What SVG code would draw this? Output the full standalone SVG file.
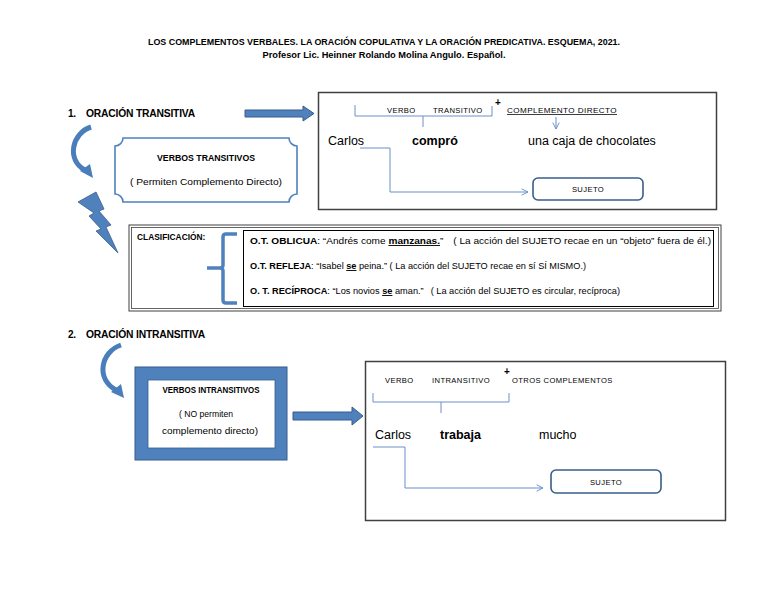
<svg xmlns="http://www.w3.org/2000/svg" width="768" height="594" viewBox="0 0 768 594">
<defs>
<style>
text{font-family:"Liberation Sans",Arial,sans-serif;fill:#000}
.title{font-size:8.6px;font-weight:bold;text-anchor:middle}
.head{font-size:10px;font-weight:900;letter-spacing:-0.2px}
.sm{font-size:7.6px;letter-spacing:0.4px}
.lbl{font-size:8.4px}
.lbl2{font-size:9.4px}
.cl{font-size:9.2px}
.big{font-size:12.5px}
.b{font-weight:bold}
.conn{fill:none;stroke:#6b8fca;stroke-width:1}
.brace{fill:none;stroke:#6b8fca;stroke-width:1}
.blk{fill:#4f81bd;stroke:#385d8a;stroke-width:1}
.curve{fill:none;stroke:#4a7ebb;stroke-width:5;stroke-linecap:butt}
.sbox{fill:#fff;stroke:#385d8a;stroke-width:1.6}
</style>
<marker id="open" viewBox="0 0 10 10" refX="9" refY="5" markerWidth="8" markerHeight="8" markerUnits="userSpaceOnUse" orient="auto">
<path d="M1,1 L9,5 L1,9" fill="none" stroke="#6b8fca" stroke-width="1.2"/>
</marker>
</defs>
<rect width="768" height="594" fill="#fff"/>

<g id="title">
<text class="title" x="384" y="45" textLength="472" lengthAdjust="spacingAndGlyphs">LOS COMPLEMENTOS VERBALES. LA ORACIÓN COPULATIVA Y LA ORACIÓN PREDICATIVA. ESQUEMA, 2021.</text>
<text class="title" x="384" y="58" textLength="243" lengthAdjust="spacingAndGlyphs">Profesor Lic. Heinner Rolando Molina Angulo. Español.</text>
</g>

<!-- Section 1 -->
<g id="heading1">
<text class="head" x="68" y="117">1.</text>
<text class="head" x="86" y="117" textLength="109" lengthAdjust="spacingAndGlyphs">ORACIÓN TRANSITIVA</text>
</g>

<g id="verbos-transitivos">
<path d="M123,138 H289 A8,8 0 0 0 297,146 V194 A8,8 0 0 0 289,202 H123 A8,8 0 0 0 115,194 V146 A8,8 0 0 0 123,138 Z" fill="#fff" stroke="#4f81bd" stroke-width="1.6"/>
<text class="lbl b" x="206" y="161" text-anchor="middle" textLength="98" lengthAdjust="spacingAndGlyphs">VERBOS TRANSITIVOS</text>
<text class="lbl2" x="206" y="185" text-anchor="middle" textLength="152" lengthAdjust="spacingAndGlyphs">( Permiten Complemento Directo)</text>
</g>

<g id="ejemplo-transitivo">
<rect x="318.5" y="92.5" width="398" height="117" fill="#fff" stroke="#404040" stroke-width="1.5"/>
<path class="brace" d="M355,105 V116 H492 V106 M423,116 V127"/>
<text class="sm" x="387" y="113">VERBO</text>
<text class="sm" x="433" y="113">TRANSITIVO</text>
<text class="b" x="495" y="106" font-size="10">+</text>
<text class="sm" x="507" y="113" text-decoration="underline" textLength="110" lengthAdjust="spacingAndGlyphs">COMPLEMENTO DIRECTO</text>
<text class="big" x="328" y="145">Carlos</text>
<text class="big b" x="412" y="145">compró</text>
<text class="big" x="528" y="145">una caja de chocolates</text>
</g>

<g id="sujeto1">
<rect class="sbox" x="533" y="178" width="110" height="22" rx="5"/>
<text class="sm" x="588" y="192" text-anchor="middle">SUJETO</text>
</g>

<g id="clasificacion">
<rect x="129" y="225" width="592" height="86" fill="#fff" stroke="#404040" stroke-width="1"/>
<rect x="131.5" y="227.5" width="587" height="81" fill="none" stroke="#404040" stroke-width="0.8"/>
<text class="lbl b" x="137" y="240">CLASIFICACIÓN:</text>
<path d="M237,234 H226 Q223,234 223,237 V265 Q223,268 220,268 H207 M220,268 Q223,268 223,271 V300 Q223,303 226,303 H237" fill="none" stroke="#4f81bd" stroke-width="3.5"/>
<rect x="243.5" y="230.5" width="470" height="76" fill="#fff" stroke="#000" stroke-width="1"/>
<text class="cl" x="250" y="244" textLength="461" lengthAdjust="spacingAndGlyphs"><tspan class="b">O.T. OBLICUA</tspan>: “Andrés come <tspan class="b" text-decoration="underline">manzanas.</tspan>”<tspan dx="9">( La acción del SUJETO recae en un “objeto” fuera de él.)</tspan></text>
<text class="cl" x="250" y="269" textLength="336" lengthAdjust="spacingAndGlyphs"><tspan class="b">O.T. REFLEJA</tspan>: “Isabel <tspan class="b" text-decoration="underline">se</tspan> peina.” ( La acción del SUJETO recae en sí SÍ MISMO.)</text>
<text class="cl" x="250" y="294" textLength="370" lengthAdjust="spacingAndGlyphs"><tspan class="b">O. T. RECÍPROCA</tspan>: “Los novios <tspan class="b" text-decoration="underline">se</tspan> aman.”<tspan dx="7">( La acción del SUJETO es circular, recíproca)</tspan></text>
</g>

<!-- Section 2 -->
<g id="heading2">
<text class="head" x="68" y="338">2.</text>
<text class="head" x="86" y="338" textLength="119" lengthAdjust="spacingAndGlyphs">ORACIÓN INTRANSITIVA</text>
</g>

<g id="verbos-intransitivos">
<rect x="135" y="367" width="152" height="93" fill="#4f81bd" stroke="#385d8a" stroke-width="1"/>
<rect x="148" y="380" width="127" height="68" fill="#fff" stroke="#385d8a" stroke-width="0.8"/>
<text class="lbl b" x="211" y="393" text-anchor="middle" textLength="97" lengthAdjust="spacingAndGlyphs">VERBOS INTRANSITIVOS</text>
<text class="lbl2" x="206" y="417" text-anchor="middle" textLength="54" lengthAdjust="spacingAndGlyphs">( NO permiten</text>
<text class="lbl2" x="210" y="434" text-anchor="middle" textLength="96" lengthAdjust="spacingAndGlyphs">complemento directo)</text>
</g>

<g id="ejemplo-intransitivo">
<rect x="365.5" y="361.5" width="360" height="159" fill="#fff" stroke="#404040" stroke-width="1.5"/>
<path class="brace" d="M373,393 V402 H509 V393 M441,402 V413"/>
<text class="sm" x="385" y="383">VERBO</text>
<text class="sm" x="432" y="383">INTRANSITIVO</text>
<text class="b" x="504" y="375" font-size="10">+</text>
<text class="sm" x="512" y="383">OTROS COMPLEMENTOS</text>
<text class="big" x="375" y="439">Carlos</text>
<text class="big b" x="440" y="439">trabaja</text>
<text class="big" x="539" y="439">mucho</text>
</g>

<g id="sujeto2">
<rect class="sbox" x="551" y="470" width="110" height="23" rx="5"/>
<text class="sm" x="606" y="485" text-anchor="middle">SUJETO</text>
</g>

<g id="connectors">
<!-- block arrow 1 -->
<path class="blk" d="M245,110 H303 V106 L314,113.5 L303,121 V117 H245 Z"/>
<!-- block arrow 2 -->
<path class="blk" d="M293,412 H352 V407 L363,416 L352,425 V420 H293 Z"/>
<!-- curved arrow 1 -->
<path class="curve" d="M91,127 C72,133 66,160 85,170"/>
<path d="M80,171 L90,164 L93,178 Z" fill="#4a7ebb"/>
<!-- curved arrow 2 -->
<path class="curve" d="M121,345 C100,352 96,380 116,390"/>
<path d="M111,392 L121,384 L124,398 Z" fill="#4a7ebb"/>
<!-- lightning bolt -->
<polygon points="78,202 96,192 104,209 99,211 111,225 106,227 118,253 96,231 101,229 89,216 94,213" fill="#4f81bd" stroke="#385d8a" stroke-width="0.8"/>
<!-- box1 connectors -->
<path class="conn" d="M360,148 H390 V192 H528" marker-end="url(#open)"/>
<path class="conn" d="M556,117 V129" marker-end="url(#open)"/>
<!-- box2 connectors -->
<path class="conn" d="M373,447 H405 V488 H543" marker-end="url(#open)"/>
</g>
</svg>
